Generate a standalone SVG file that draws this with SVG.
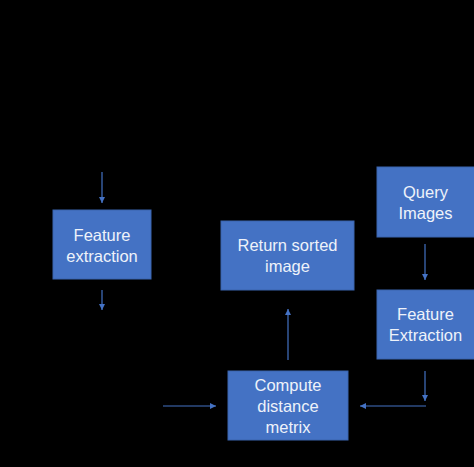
<svg xmlns="http://www.w3.org/2000/svg" width="474" height="467" viewBox="0 0 474 467">
<defs>
<style>
.box{fill:#4472C4;stroke:#3A64AE;stroke-width:1}
.t{font-family:"Liberation Sans",Arial,sans-serif;font-size:16.5px;fill:#EEF2FA;text-anchor:middle}
.c{stroke:#4472C4;stroke-width:1.2;fill:none;marker-end:url(#ah)}
</style>
<marker id="ah" viewBox="0 0 10 10" refX="10" refY="5" markerWidth="6" markerHeight="6" markerUnits="userSpaceOnUse" orient="auto">
<path d="M0,0 L10,5 L0,10 z" fill="#4472C4"/>
</marker>
</defs>
<rect width="474" height="467" fill="#000"/>
<g id="connectors">
<line class="c" x1="102" y1="172" x2="102" y2="203"/>
<line class="c" x1="102" y1="290" x2="102" y2="310"/>
<line class="c" x1="425" y1="244" x2="425" y2="280"/>
<line class="c" x1="425" y1="371" x2="425" y2="401"/>
<line class="c" x1="426" y1="406" x2="360" y2="406"/>
<line class="c" x1="163" y1="406" x2="216" y2="406"/>
<line class="c" x1="288" y1="360" x2="288" y2="309"/>
</g>
<g id="feature-extraction-left">
<rect class="box" x="53" y="210" width="98" height="69"/>
<text class="t" x="102" y="241">Feature</text>
<text class="t" x="102" y="262">extraction</text>
</g>
<g id="return-sorted-image">
<rect class="box" x="221" y="221" width="133" height="69"/>
<text class="t" x="287.5" y="251">Return sorted</text>
<text class="t" x="287.5" y="272">image</text>
</g>
<g id="query-images">
<rect class="box" x="377" y="167" width="100" height="70"/>
<text class="t" x="425.5" y="198">Query</text>
<text class="t" x="425.5" y="219">Images</text>
</g>
<g id="feature-extraction-right">
<rect class="box" x="377" y="290" width="100" height="69"/>
<text class="t" x="425.5" y="320">Feature</text>
<text class="t" x="425.5" y="341">Extraction</text>
</g>
<g id="compute-distance">
<rect class="box" x="228" y="371" width="120" height="69"/>
<text class="t" x="288" y="391">Compute</text>
<text class="t" x="288" y="412">distance</text>
<text class="t" x="288" y="433">metrix</text>
</g>
</svg>
